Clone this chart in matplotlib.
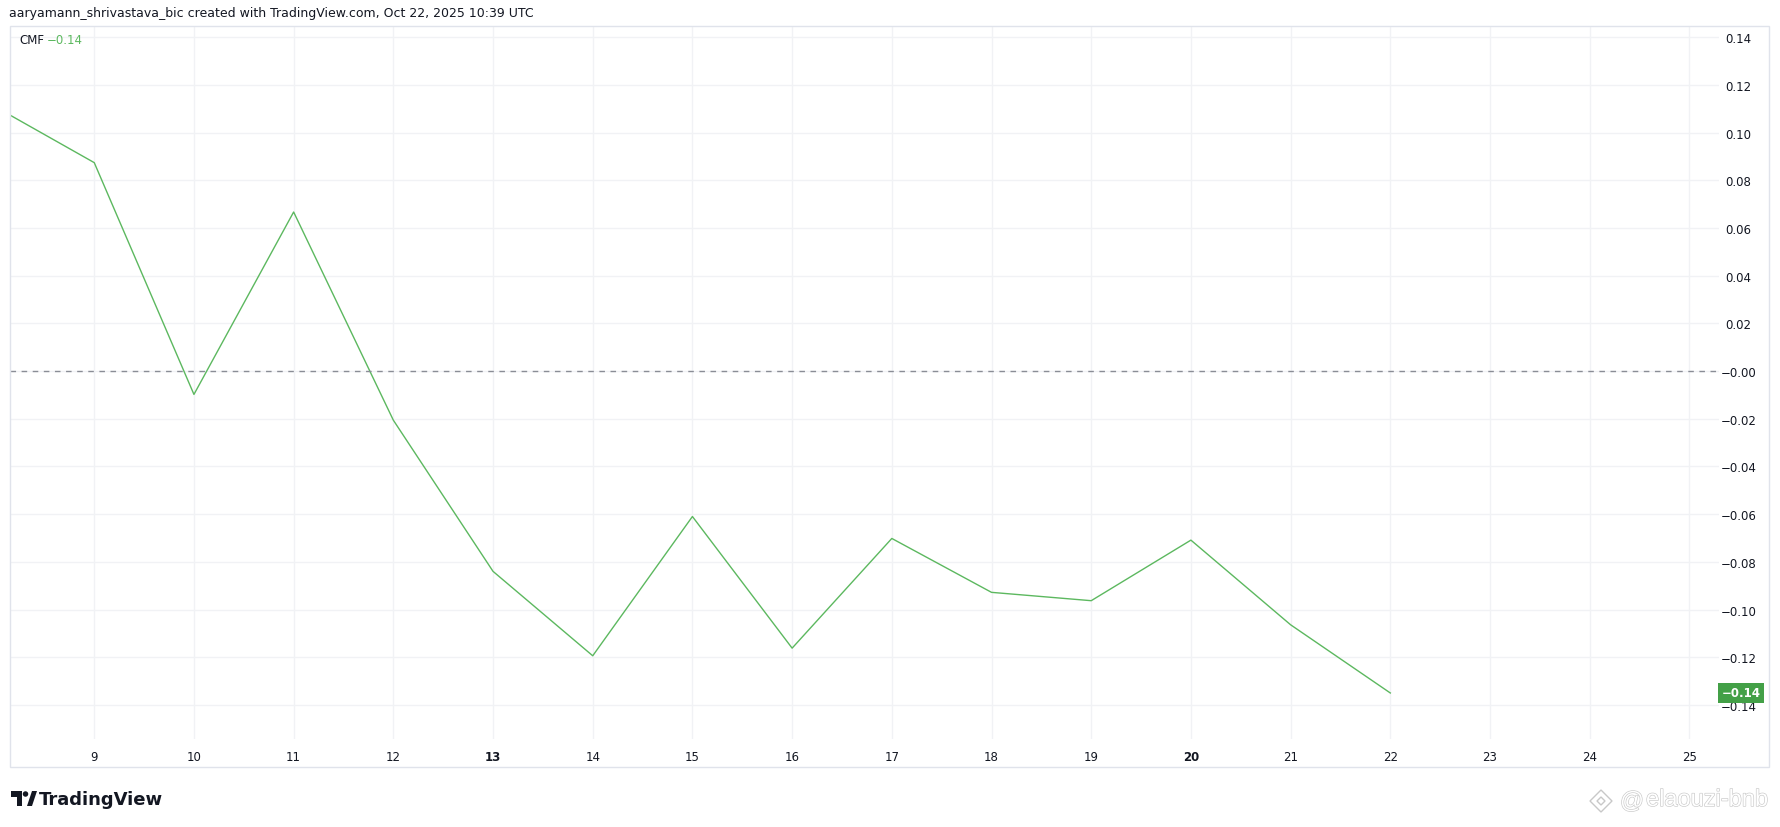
import matplotlib
matplotlib.use("Agg")
import matplotlib.pyplot as plt
import matplotlib.patches as patches
import matplotlib.patheffects as pe
from matplotlib.transforms import blended_transform_factory

W, H = 1780, 828

# data (day of month, CMF value)
days = [8, 9, 10, 11, 12, 13, 14, 15, 16, 17, 18, 19, 20, 21, 22]
cmf = [0.111, 0.0874, -0.0098, 0.0667, -0.0206, -0.0840, -0.1194, -0.0610,
       -0.1162, -0.0702, -0.0928, -0.0963, -0.0709, -0.1064, -0.1350]
x_ticks = list(range(9, 26))
bold_days = [13, 20]
y_ticks = [0.14, 0.12, 0.10, 0.08, 0.06, 0.04, 0.02, 0.0,
           -0.02, -0.04, -0.06, -0.08, -0.10, -0.12, -0.14]
y_labels = ["0.14", "0.12", "0.10", "0.08", "0.06", "0.04", "0.02", "\u22120.00",
            "\u22120.02", "\u22120.04", "\u22120.06", "\u22120.08", "\u22120.10",
            "\u22120.12", "\u22120.14"]
last_label = "\u22120.14"
header = "aaryamann_shrivastava_bic created with TradingView.com, Oct 22, 2025 10:39 UTC"

GREEN = "#5cb85f"
TEXT = "#131722"
GRID = "#f1f2f5"

plt.rcParams['font.family'] = ['DejaVu Sans']


def px_box(x0, y0, x1, y1):
    # pixel box (top-left origin) -> figure fraction rect
    return [x0 / W, 1 - y1 / H, (x1 - x0) / W, (y1 - y0) / H]


fig = plt.figure(figsize=(W / 100, H / 100), dpi=100)
fig.patch.set_facecolor("white")

ax = fig.add_axes(px_box(10, 27, 1719, 740))
ax.plot(days, cmf, color=GREEN, lw=1.0, clip_on=True)
ax.axhline(0, color="#8a8d96", lw=1.0, ls=(0, (4, 4)))

ax.set_xlim(8.155, 25.297)
ax.set_ylim(-0.1543, 0.1447)
for s in ax.spines.values():
    s.set_visible(False)

ax.set_xticks(x_ticks)
ax.set_xticklabels([str(d) for d in x_ticks], fontsize=8.5, color=TEXT)
for lab, d in zip(ax.get_xticklabels(), x_ticks):
    if d in bold_days:
        lab.set_fontweight('bold')
ax.set_yticks(y_ticks)
ax.set_yticklabels(y_labels, fontsize=8.5, color=TEXT)
ax.yaxis.tick_right()
for lab in ax.get_yticklabels():
    lab.set_ha('center')
ax.tick_params(axis='y', length=0, pad=14)
ax.tick_params(axis='x', length=0, pad=8)
ax.grid(True, color=GRID, lw=1.0)
ax.set_axisbelow(True)

# last value badge on the price scale
tr = blended_transform_factory(ax.transAxes, ax.transData)
ax.text(1.0128, cmf[-1], last_label, transform=tr, ha='center', va='center',
        fontsize=8.5, fontweight='bold', color='white', clip_on=False,
        bbox=dict(boxstyle='square,pad=0.28', fc='#43a047', ec='none'))

# legend
fig.text(19 / W, 1 - 41 / H, "CMF", fontsize=8.5, color=TEXT, va='center')
fig.text(47 / W, 1 - 41 / H, last_label, fontsize=8.5, color=GREEN, va='center')

# header
fig.text(9 / W, 1 - 13 / H, header, fontsize=9, color=TEXT, va='center')

# outer border of the chart pane
fig.patches.append(patches.Rectangle((10 / W, 1 - 768 / H), 1759 / W, 741 / H,
                                     transform=fig.transFigure, fill=False,
                                     ec="#e0e3eb", lw=1.0))


def fig_poly(pts, **kw):
    p = patches.Polygon([(x / W, 1 - y / H) for x, y in pts], closed=True,
                        transform=fig.transFigure, **kw)
    fig.patches.append(p)


# TradingView logo
fig_poly([(11, 792), (22, 792), (22, 807), (17, 807), (17, 798), (11, 798)], fc=TEXT, ec='none')
fig.patches.append(patches.Ellipse((25.5 / W, 1 - 795 / H), 5.5 / W, 5.5 / H,
                                   transform=fig.transFigure, fc=TEXT, ec='none'))
fig_poly([(27, 807), (32, 807), (37, 792), (32, 792)], fc=TEXT, ec='none')
fig.text(39 / W, 1 - 800 / H, "TradingView", fontsize=13, fontweight='bold',
         color=TEXT, va='center')

# watermark
WM = "#c8c8c8"
cx, cy = 1601, 802
fig_poly([(cx - 11, cy), (cx, cy - 11), (cx + 11, cy), (cx, cy + 11)], fill=False, ec=WM, lw=1.0)
fig_poly([(cx - 4, cy), (cx, cy - 4), (cx + 4, cy), (cx, cy + 4)], fill=False, ec=WM, lw=1.0)
outline = [pe.withStroke(linewidth=0.9, foreground=WM)]
fig.text(1620 / W, 1 - 803 / H, "@", fontsize=17, color="white", va='center',
         family='Liberation Sans', path_effects=outline)
fig.text(1646 / W, 1 - 801 / H, "elaouzi-bnb", fontsize=17, color="white",
         va='center', family='Liberation Sans', path_effects=outline)

fig.savefig("out.png", dpi=100, facecolor="white")
